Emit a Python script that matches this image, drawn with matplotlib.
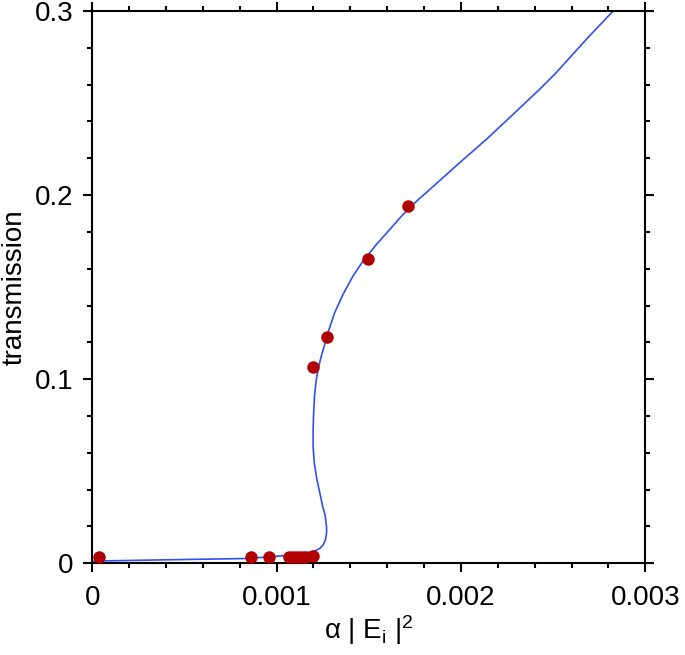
import matplotlib
matplotlib.use("Agg")
import matplotlib.pyplot as plt
from matplotlib.ticker import MultipleLocator

plt.rcParams['font.family'] = ['Liberation Sans', 'DejaVu Sans']
plt.rcParams['mathtext.fontset'] = 'custom'
plt.rcParams['mathtext.rm'] = 'Liberation Sans'
plt.rcParams['mathtext.it'] = 'Liberation Sans:italic'

# theory curve
curve_x = [0.0, 0.00040, 0.000832, 0.000979, 0.001071, 0.001161, 0.001206, 0.001233,
           0.001252, 0.001265, 0.001271, 0.001271, 0.001263, 0.001250, 0.001235,
           0.001219, 0.001205, 0.001198, 0.001198, 0.001201, 0.001206, 0.001215, 0.001228,
           0.001242, 0.001278, 0.001314, 0.001359, 0.001413, 0.001467, 0.001540,
           0.001612, 0.001684, 0.001757, 0.001847, 0.001991, 0.002136, 0.002280,
           0.002424, 0.002515, 0.002605, 0.002695, 0.002821, 0.002830]
curve_y = [0.0012, 0.0019, 0.0026, 0.0036, 0.0045, 0.0058, 0.0066, 0.0080,
           0.0099, 0.0127, 0.0165, 0.0197, 0.0263, 0.0308, 0.0380,
           0.0453, 0.0540, 0.0634, 0.0724, 0.0815, 0.0915, 0.0996, 0.1068,
           0.1123, 0.1250, 0.1359, 0.1458, 0.1558, 0.1639, 0.1730,
           0.1811, 0.1893, 0.1965, 0.2045, 0.2174, 0.2301, 0.2436,
           0.2572, 0.2663, 0.2763, 0.2862, 0.2995, 0.3005]

# measured points
meas_x = [0.000036, 0.000859, 0.000957, 0.001067, 0.001087, 0.001108, 0.001130,
          0.001152, 0.001200, 0.001197, 0.001276, 0.001495, 0.001715]
meas_y = [0.0033, 0.0033, 0.0033, 0.0032, 0.0032, 0.0032, 0.0032,
          0.0032, 0.0041, 0.1068, 0.1230, 0.1654, 0.1940]

x_ticks = [0, 0.001, 0.002, 0.003]
x_labels = ['0', '0.001', '0.002', '0.003']
y_ticks = [0, 0.1, 0.2, 0.3]
y_labels = ['0', '0.1', '0.2', '0.3']

fig = plt.figure(figsize=(6.85, 6.55), dpi=100)
ax = fig.add_axes([0.1347, 0.140, 0.8073, 0.8432])

ax.plot(curve_x, curve_y, color='#3050f0', lw=1.2, zorder=2, clip_on=True,
        solid_joinstyle='round')
ax.plot(meas_x, meas_y, 'o', color='#b00000', ms=9, mec='none', zorder=3, clip_on=False)

ax.set_xlim(0, 0.003)
ax.set_ylim(0, 0.3)
ax.set_xticks(x_ticks)
ax.set_xticklabels(x_labels)
ax.set_yticks(y_ticks)
ax.set_yticklabels(y_labels)
ax.xaxis.set_minor_locator(MultipleLocator(0.0002))
ax.yaxis.set_minor_locator(MultipleLocator(0.02))

for s in ax.spines.values():
    s.set_linewidth(1.5)
ax.tick_params(which='both', direction='out', top=True, right=True, width=1.5)
ax.tick_params(which='major', length=6.5, labelsize=20)
ax.tick_params(axis='x', which='major', pad=9)
ax.tick_params(axis='y', which='major', pad=7)
ax.tick_params(which='minor', length=3.5)

ax.set_xlabel(r'α | E$_\mathregular{i}$ |$^\mathregular{2}$', fontsize=20, labelpad=2)
ax.set_ylabel('transmission', fontsize=20, labelpad=5)

fig.savefig('out.png', dpi=100)
